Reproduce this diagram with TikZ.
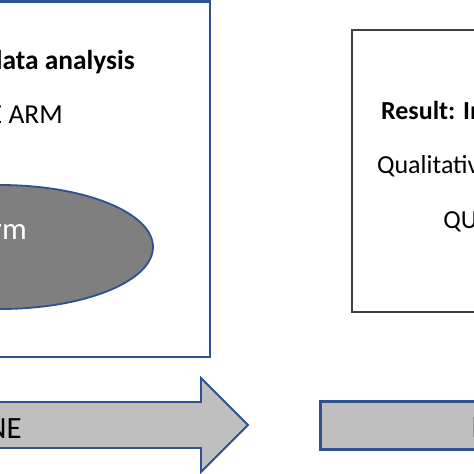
\documentclass[tikz,border=0pt]{standalone}
\usepackage{fontspec}
\setmainfont{Carlito}
\usepackage{xcolor}
\usetikzlibrary{positioning,shapes.geometric}
\definecolor{officeblue}{HTML}{2F528F}
\definecolor{darkfill}{HTML}{7F7F7F}
\definecolor{lightfill}{HTML}{BFBFBF}
\definecolor{frame}{HTML}{404040}

\begin{document}
\begin{tikzpicture}[
  bigbox/.style={draw=officeblue, line width=1.8pt, fill=white, minimum width=9.25cm, minimum height=8.89cm, inner sep=0pt},
  resbox/.style={draw=frame, line width=1pt, fill=white, minimum width=6.2cm, minimum height=7.05cm, inner sep=0pt},
  blob/.style={ellipse, draw=officeblue, line width=1.3pt, fill=darkfill, minimum width=7.65cm, minimum height=3.1cm, inner sep=0pt},
  bar/.style={draw=officeblue, line width=2pt, fill=lightfill, minimum width=6cm, minimum height=1.2cm, inner sep=0pt},
  txt/.style={inner sep=0pt, font=\fontsize{18.5}{22}\selectfont},
  lefttxt/.style={inner sep=0pt, font=\fontsize{19.5}{23}\selectfont},
  bigtxt/.style={inner sep=0pt, font=\fontsize{22}{26}\selectfont}
]
\useasboundingbox (0,0) rectangle (11.85,-11.85);
\clip (0,0) rectangle (11.85,-11.85);
% Analysis box
\node[bigbox] (analysis) at (0.625,-4.48) {};
\node[lefttxt, anchor=base east, font=\fontsize{19.5}{23}\selectfont\bfseries] (head) at (3.375,-1.733) {data analysis};
\node[lefttxt, anchor=base east] (arm) at (1.575,-3.083) {E ARM};
\node[blob] (core) at (0,-6.175) {};
\node[bigtxt, anchor=base east, text=white] (corelab) at (0.675,-5.975) {rm};
% Result box
\node[resbox] (result) at (11.9,-4.275) {};
\node[txt, anchor=base west, font=\fontsize{18.5}{22}\selectfont\bfseries] (reshead) at (9.52,-2.98) {Result: In};
\node[txt, anchor=base west] (qual) at (9.42,-4.325) {Qualitative};
\node[txt, anchor=base west] (quan) at (11.075,-5.7) {QU};
% Bottom row
\draw[officeblue, line width=1.4pt, fill=lightfill, line join=miter]
  (-4,-10.05) -- (5.025,-10.05) -- (5.025,-9.45) -- (6.2,-10.625)
  -- (5.025,-11.8) -- (5.025,-11.2) -- (-4,-11.2) -- cycle;
\node[bigtxt, anchor=base east] (stage) at (0.55,-10.95) {NE};
\node[bar, anchor=north west] (next) at (7.975,-10.0) {};
\node[bigtxt, anchor=base west] (nextlab) at (11.775,-10.925) {I};
\end{tikzpicture}
\end{document}
